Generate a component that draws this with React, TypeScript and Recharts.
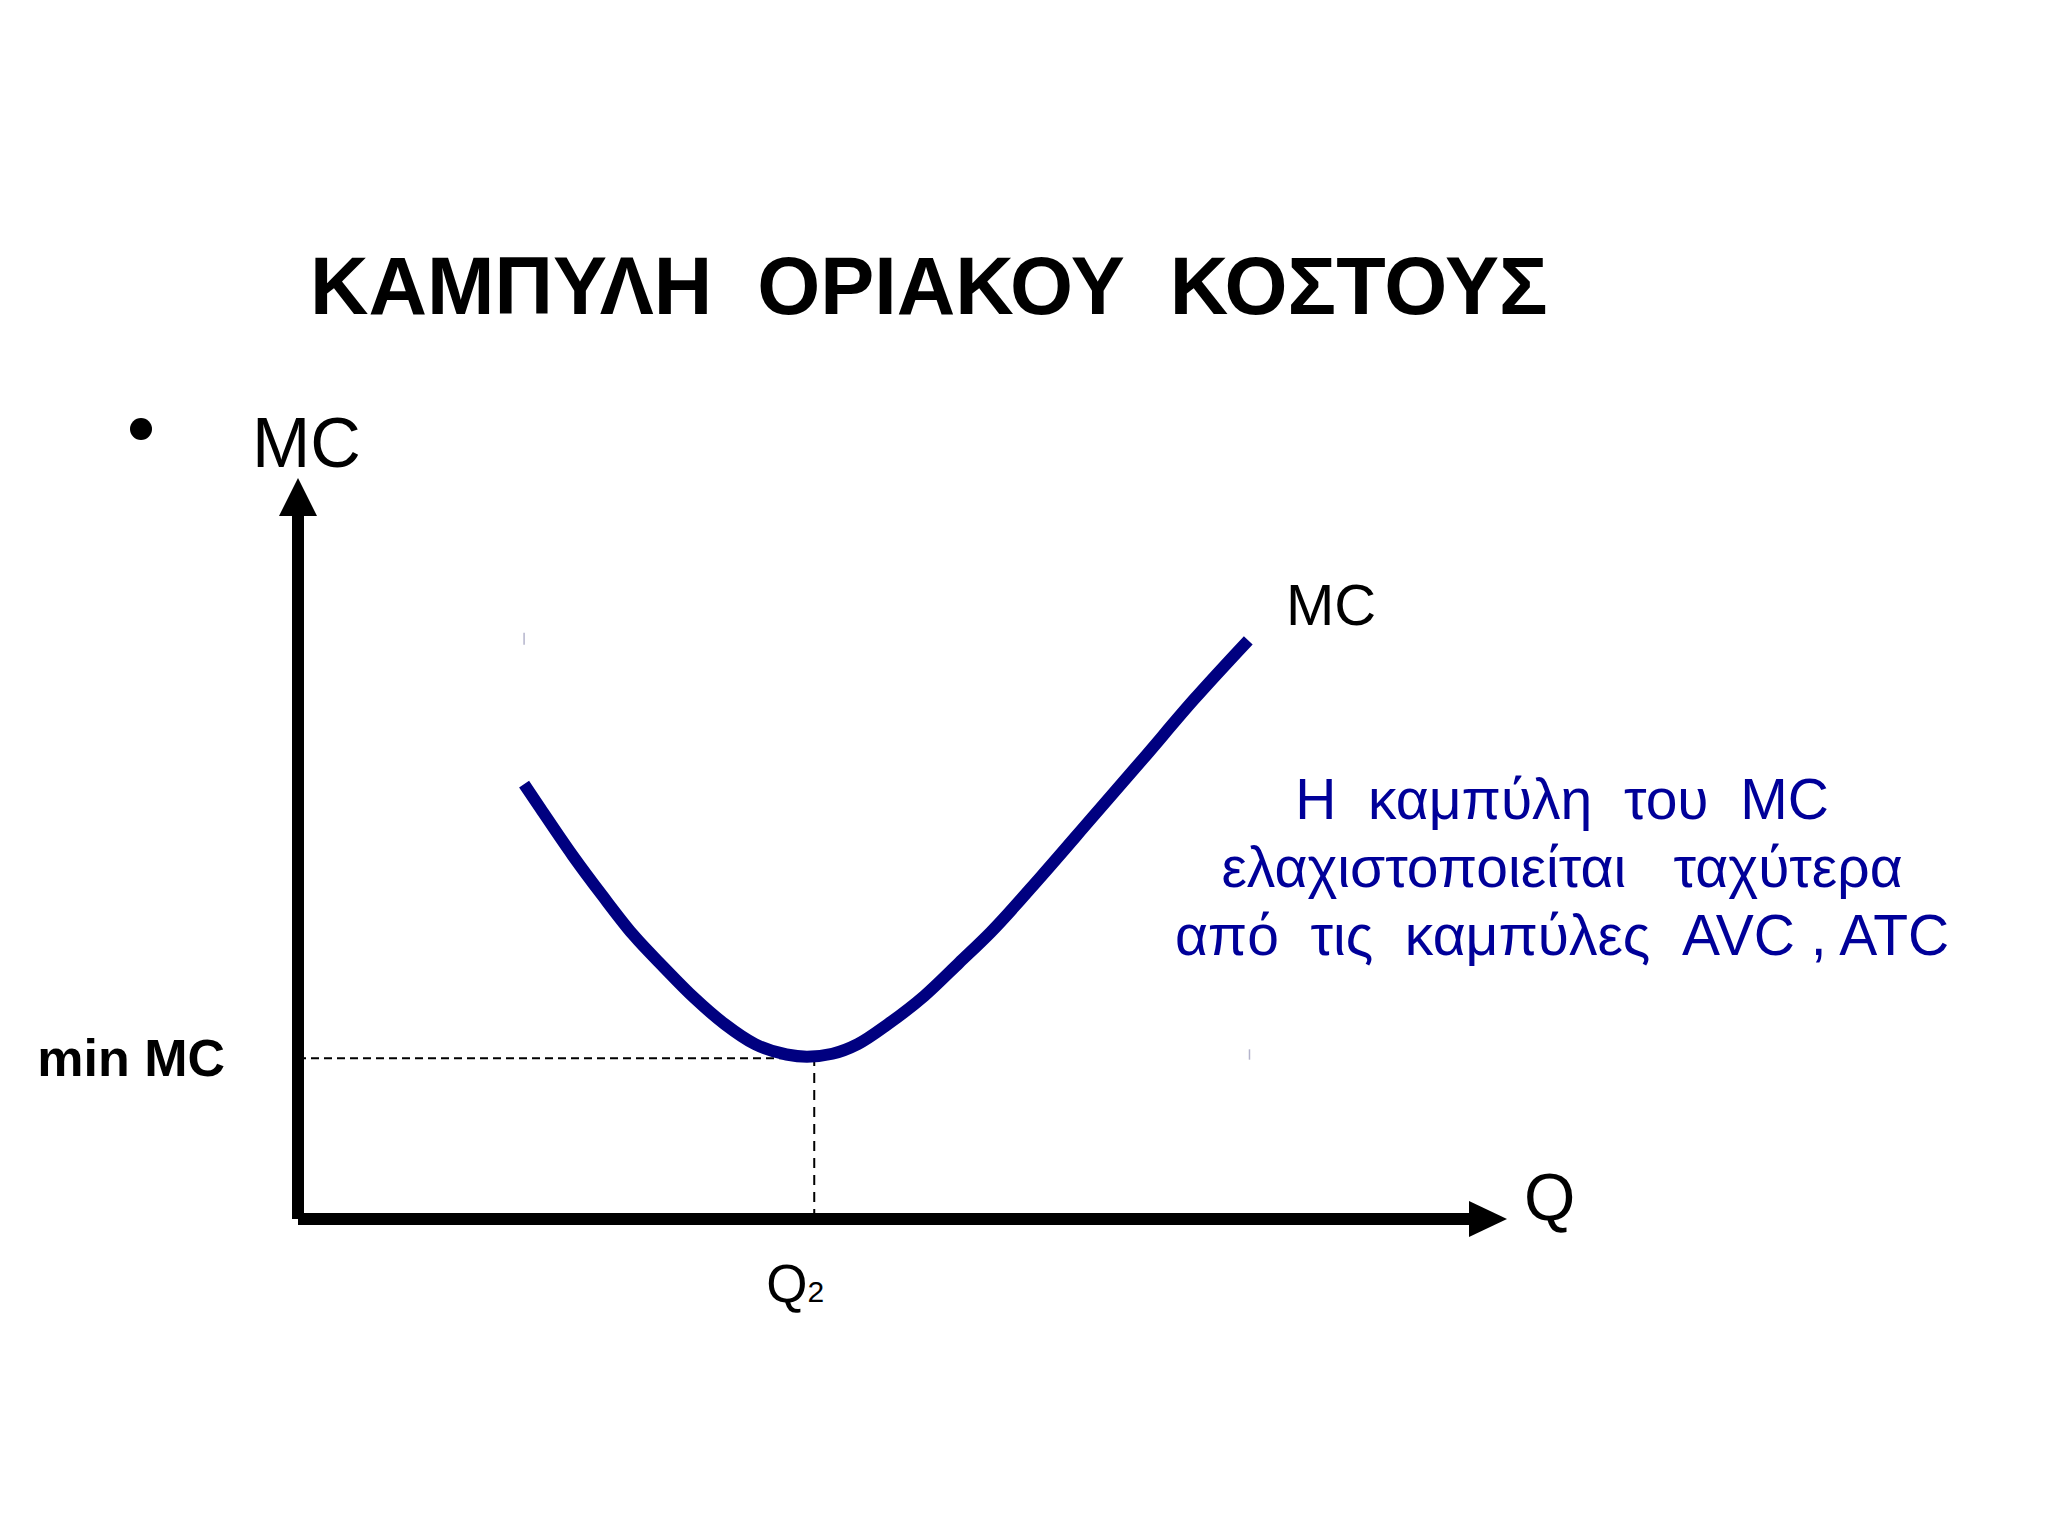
import { LineChart, Line, XAxis, YAxis, ReferenceLine, ReferenceDot } from "recharts";

// MC curve (Q on 0..100, cost on 0..100)
const qValues = [18.7, 20.1, 22.7, 25.2, 27.7, 30.3, 32.8, 35.3, 37.8, 40.4, 42.1, 44.2, 46.3, 48.8, 51.8, 54.7, 57.3, 61.5, 65.7, 69.9, 74.1, 78.6];
const mcValues = [58.7, 55.3, 49.1, 43.6, 38.4, 33.9, 29.8, 26.3, 23.6, 22.2, 21.9, 22.3, 23.6, 26.3, 30.1, 34.6, 38.7, 46.3, 54.2, 62.1, 70.1, 78.1];

const minMc = 21.7;
const q2 = 42.7;
const title = "ΚΑΜΠΥΛΗ  ΟΡΙΑΚΟΥ  ΚΟΣΤΟΥΣ";
const noteLines = ["Η  καμπύλη  του  MC", "ελαχιστοποιείται   ταχύτερα", "από  τις  καμπύλες  AVC , ATC"];

const data = qValues.map((q, i) => ({ q, mc: mcValues[i] }));

const FONT = "'Liberation Sans', Arial, sans-serif";
const NAVY = "#000080";

const ArrowUp = (p: any) => (
  <polygon points={`${p.cx},${p.cy} ${p.cx - 19},${p.cy + 38} ${p.cx + 19},${p.cy + 38}`} fill="#000" />
);
const ArrowRight = (p: any) => (
  <polygon points={`${p.cx},${p.cy} ${p.cx - 38},${p.cy - 18} ${p.cx - 38},${p.cy + 18}`} fill="#000" />
);

const YTick = (p: any) => (
  <text x={225} y={p.y + 18} textAnchor="end" fontFamily={FONT} fontWeight="bold" fontSize={52} fill="#000">
    min MC
  </text>
);

const XTick = (p: any) => (
  <text x={p.x - 48} y={p.y + 75} fontFamily={FONT} fontSize={53} fill="#000">
    Q<tspan fontSize={30}>2</tspan>
  </text>
);

export default function App() {
  return (
    <div style={{ position: "absolute", left: 0, top: 0, width: 2048, height: 1536, background: "#fff" }}>
      <LineChart width={2048} height={1536} data={data} margin={{ top: 478, right: 541, left: 0, bottom: 0 }}>
        <XAxis
          type="number"
          dataKey="q"
          domain={[0, 100]}
          ticks={[q2]}
          height={317}
          axisLine={false}
          tickLine={false}
          tick={<XTick />}
        />
        <YAxis
          type="number"
          domain={[0, 100]}
          ticks={[minMc]}
          width={298}
          axisLine={false}
          tickLine={false}
          tick={<YTick />}
        />
        <ReferenceLine segment={[{ x: 0, y: minMc }, { x: 40.5, y: minMc }]} stroke="#000" strokeWidth={2} strokeDasharray="8 5" ifOverflow="visible" />
        <ReferenceLine segment={[{ x: q2, y: 0 }, { x: q2, y: minMc }]} stroke="#000" strokeWidth={2} strokeDasharray="10 7" ifOverflow="visible" />
        <ReferenceLine segment={[{ x: 18.7, y: 77.5 }, { x: 18.7, y: 79.1 }]} stroke="#b4b4cc" strokeWidth={1.5} ifOverflow="visible" />
        <ReferenceLine segment={[{ x: 78.7, y: 21.5 }, { x: 78.7, y: 22.9 }]} stroke="#b4b4cc" strokeWidth={1.5} ifOverflow="visible" />
        <ReferenceLine segment={[{ x: 0, y: 0 }, { x: 0, y: 94.9 }]} stroke="#000" strokeWidth={12} ifOverflow="visible" />
        <ReferenceLine segment={[{ x: 0, y: 0 }, { x: 96.9, y: 0 }]} stroke="#000" strokeWidth={12} ifOverflow="visible" />
        <ReferenceDot x={0} y={100} r={1} shape={ArrowUp} ifOverflow="visible" />
        <ReferenceDot x={100} y={0} r={1} shape={ArrowRight} ifOverflow="visible" />
        <Line
          type="monotone"
          dataKey="mc"
          stroke={NAVY}
          strokeWidth={12}
          dot={false}
          activeDot={false}
          isAnimationActive={false}
        />
      </LineChart>
      <svg width={2048} height={1536} style={{ position: "absolute", left: 0, top: 0, pointerEvents: "none" }}>
        <text x={310} y={314} fontFamily={FONT} fontWeight="bold" fontSize={81} fill="#000" style={{ whiteSpace: "pre" }}>
          {title}
        </text>
        <circle cx={141} cy={429} r={11} fill="#000" />
        <text x={252} y={467} fontFamily={FONT} fontSize={70} fill="#000">MC</text>
        <text x={1286} y={625} fontFamily={FONT} fontSize={58} fill="#000">MC</text>
        <text x={1524} y={1220} fontFamily={FONT} fontSize={66} fill="#000">Q</text>
        {noteLines.map((line, i) => (
          <text
            key={i}
            x={1562}
            y={819 + i * 68}
            textAnchor="middle"
            fontFamily={FONT}
            fontSize={57}
            fill="#000099"
            style={{ whiteSpace: "pre" }}
          >
            {line}
          </text>
        ))}
      </svg>
    </div>
  );
}
